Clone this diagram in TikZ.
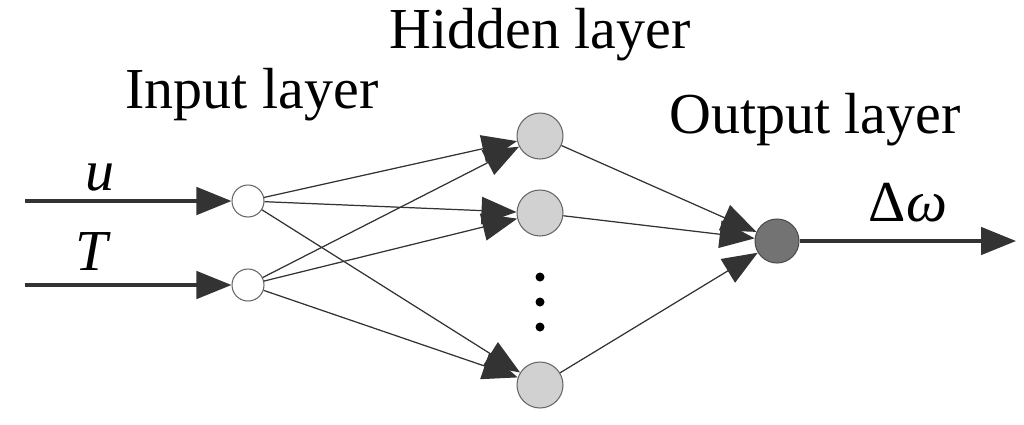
\documentclass[tikz,border=0pt]{standalone}
\usepackage{fontspec}
\setmainfont{Liberation Serif}
\usetikzlibrary{arrows.meta}
\begin{document}
\begin{tikzpicture}[x=0.02cm,y=-0.02cm,
  lbl/.style={font=\fontsize{33}{38}\selectfont},
  tip/.style={-{Triangle[length=0.7cm,width=0.55cm]}},
  conn/.style={tip,draw=black!80,fill=black!75,line width=0.7pt},
  inp/.style={circle,draw=black!60,fill=white,minimum size=0.64cm,inner sep=0,line width=0.6pt},
  hid/.style={circle,draw=black!60,fill=black!18,minimum size=0.92cm,inner sep=0,line width=0.6pt},
  outn/.style={circle,draw=black!70,fill=black!55,minimum size=0.88cm,inner sep=0,line width=0.6pt}]
\useasboundingbox (0,0) rectangle (1024,424);
\node[inp] (i1) at (248,201) {};
\node[inp] (i2) at (248,285) {};
\node[hid] (h1) at (540,136) {};
\node[hid] (h2) at (540,213) {};
\node[hid] (h3) at (540,385) {};
\node[outn] (o) at (777,241) {};
\coordinate (s1) at (25,201);
\coordinate (s2) at (25,285);
\coordinate (e) at (1016,241);
\draw[conn,line width=1.8pt] (s1) -- (i1);
\draw[conn,line width=1.8pt] (s2) -- (i2);
\draw[conn,line width=1.8pt] (o) -- (e);
\foreach \a in {i1,i2}\foreach \b in {h1,h2,h3}{\draw[conn] (\a) -- (\b);}
\foreach \b in {h1,h2,h3}{\draw[conn] (\b) -- (o);}
\foreach \y [count=\k] in {277,302,327}{\fill (540,\y) circle (0.09cm) coordinate (d\k);}
\node[lbl] (t1) at (252,95) {Input layer};
\node[lbl] (t2) at (540,35) {Hidden layer};
\node[lbl] (t3) at (815,120) {Output layer};
\node[lbl] (tu) at (100,178) {\itshape u};
\node[lbl] (tT) at (92,252) {\itshape T};
\node[lbl] (tw) at (908,203) {Δ\itshape ω};
\end{tikzpicture}
\end{document}
